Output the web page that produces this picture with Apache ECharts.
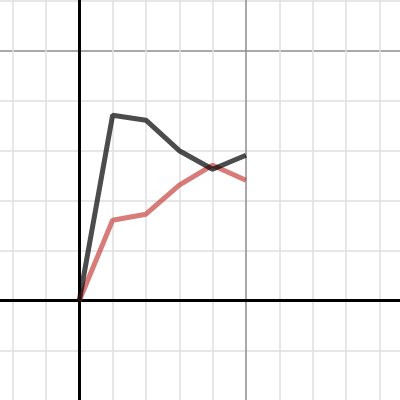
<!DOCTYPE html>
<html>
<head>
<meta charset="utf-8">
<script src="https://cdn.jsdelivr.net/npm/echarts@6/dist/echarts.min.js"></script>
<style>html,body{margin:0;padding:0;background:#fff}#c{width:400px;height:400px}</style>
</head>
<body>
<div id="c"></div>
<script>
var xValues = [0, 1, 2, 3, 4, 5];
var blackValues = [0, 3.71, 3.61, 3.0, 2.63, 2.91];
var redValues = [0, 1.61, 1.73, 2.31, 2.71, 2.41];

function pairs(xs, ys) { return xs.map(function (x, i) { return [x, ys[i]]; }); }

var chart = echarts.init(document.getElementById('c'), null, { renderer: 'canvas' });
chart.setOption({
  animation: false,
  backgroundColor: '#ffffff',
  grid: {
    left: -87.4, top: -199.3, width: 500, height: 750,
    containLabel: false, outerBoundsMode: 'none'
  },
  xAxis: {
    type: 'value', min: -5, max: 10, interval: 5,
    axisLabel: { show: false }, axisTick: { show: false },
    axisLine: { show: true, onZero: true, lineStyle: { color: '#000', width: 3 } },
    splitLine: { show: true, lineStyle: { color: '#8c8c8c', width: 1.5 } },
    minorTick: { show: false, splitNumber: 5 },
    minorSplitLine: { show: true, lineStyle: { color: '#e0e0e0', width: 1.5 } }
  },
  yAxis: {
    type: 'value', min: -5, max: 10, interval: 5,
    axisLabel: { show: false }, axisTick: { show: false },
    axisLine: { show: true, onZero: true, lineStyle: { color: '#000', width: 3 } },
    splitLine: { show: true, lineStyle: { color: '#8c8c8c', width: 1.5 } },
    minorTick: { show: false, splitNumber: 5 },
    minorSplitLine: { show: true, lineStyle: { color: '#e0e0e0', width: 1.5 } }
  },
  series: [
    {
      type: 'line', data: pairs(xValues, redValues), showSymbol: false, symbol: 'none',
      lineStyle: { color: '#c74440', opacity: 0.7, width: 5 }, z: 3
    },
    {
      type: 'line', data: pairs(xValues, blackValues), showSymbol: false, symbol: 'none',
      lineStyle: { color: '#000000', opacity: 0.7, width: 5 }, z: 4
    }
  ]
});
</script>
</body>
</html>
